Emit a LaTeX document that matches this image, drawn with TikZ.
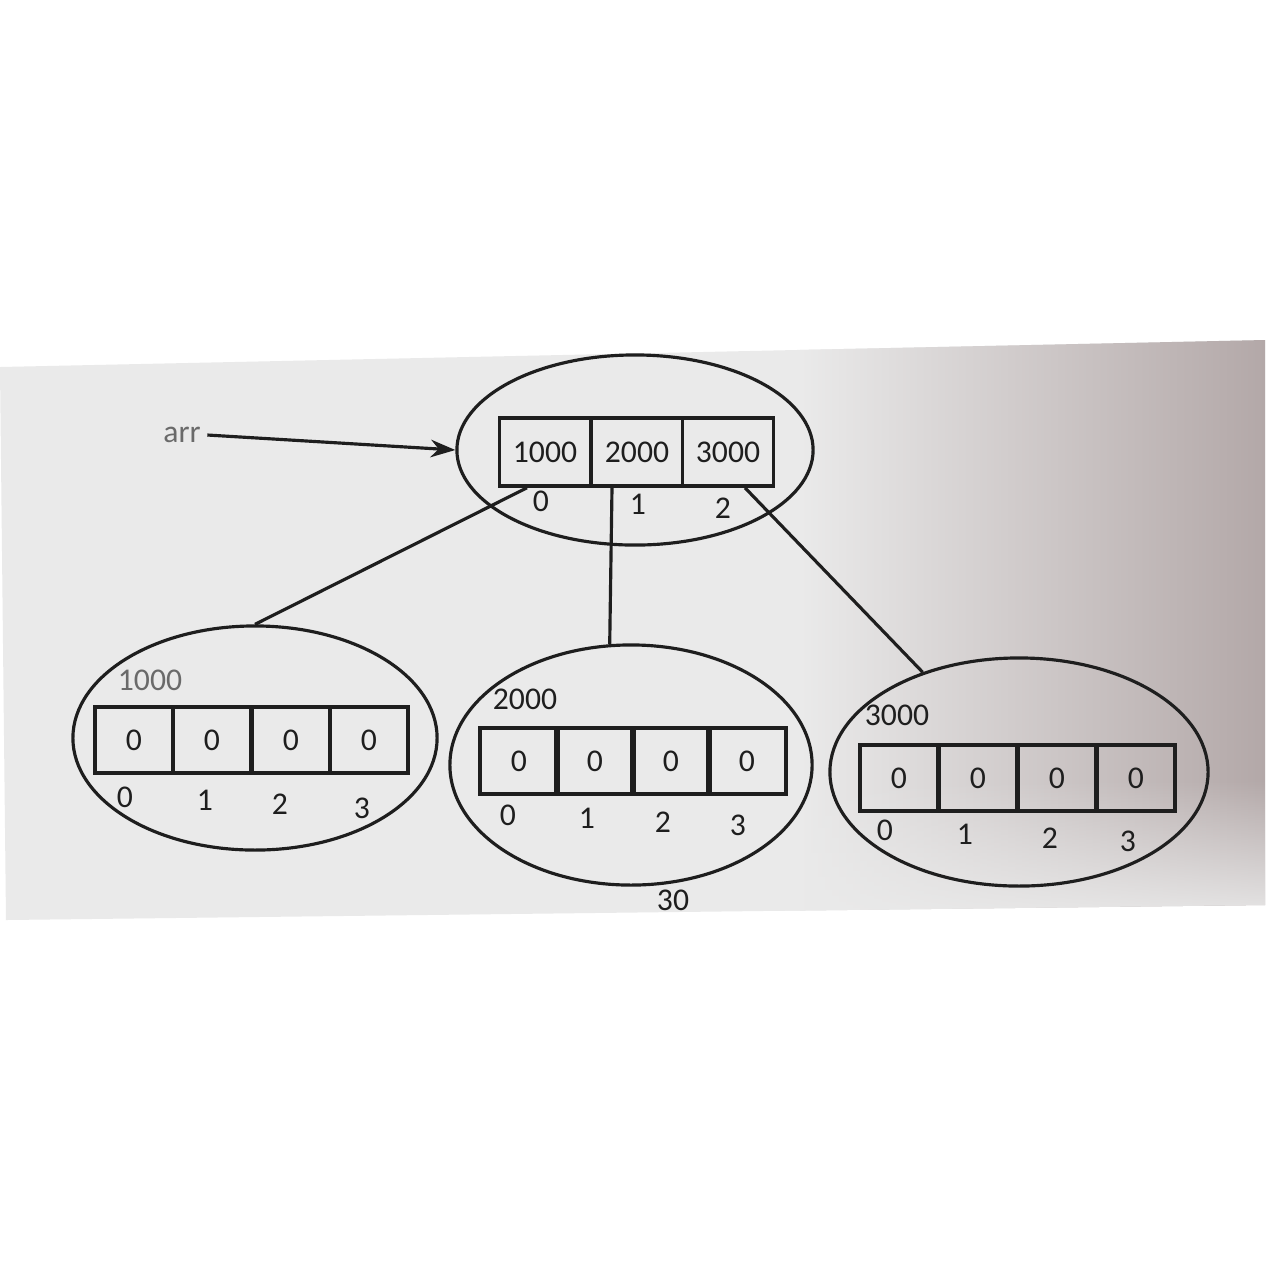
\documentclass[tikz,border=0pt]{standalone}
\usepackage{fontspec}
\setmainfont{Carlito}
\usetikzlibrary{shapes.geometric,arrows.meta,calc,fadings}
\definecolor{pagec}{HTML}{EAEAEA}
\definecolor{shadec}{HTML}{B3A8A8}
\definecolor{inkc}{HTML}{1E1E1E}
\definecolor{lightink}{HTML}{6A6A6A}
\begin{document}
\begin{tikzpicture}[x=0.01cm,y=-0.01cm,
  every node/.style={font=\fontsize{9}{10}\selectfont, text=inkc},
  oval/.style={draw=inkc, ellipse, line width=0.9pt, inner sep=0pt},
  topcell/.style={draw=inkc, line width=1pt, minimum width=0.91cm, minimum height=0.68cm, inner sep=0pt},
  cell/.style={draw=inkc, line width=1pt, minimum width=0.78cm, minimum height=0.66cm, inner sep=0pt},
  idx/.style={inner sep=0pt},
  addr/.style={inner sep=0pt},
  link/.style={draw=inkc, line width=0.9pt}]
% canvas and page
\useasboundingbox (0,0) rectangle (1273,1263);
\fill[white] (0,0) rectangle (1273,1263);
\fill[pagec] (0,367) -- (1265,340) -- (1265,905) -- (6,920) -- cycle;
\begin{scope}
\clip (0,367) -- (1265,340) -- (1265,905) -- (6,920) -- cycle;
\shade[left color=pagec, right color=shadec] (800,330) rectangle (1265,925);
\fill[pagec, path fading=north] (780,780) rectangle (1265,925);
\end{scope}

% top array
\node[oval, minimum width=3.56cm, minimum height=1.90cm] (e0) at (635,450) {};
\node[topcell] (t0) at (545,452) {1000};
\node[topcell] (t1) at (637,452) {2000};
\node[topcell] (t2) at (728,452) {3000};
\node[idx] (ti0) at (541,501) {0};
\node[idx] (ti1) at (638,504) {1};
\node[idx] (ti2) at (723,508) {2};
\node[inner sep=0pt, text=lightink] (arr) at (182,435) {arr};
\draw[link, -{Stealth[length=7pt,width=5pt]}] (arr.east) ++(6,0) -- (e0.west);

% left child
\node[oval, minimum width=3.64cm, minimum height=2.24cm] (e1) at (255,738) {};
\node[addr, text=lightink] (a1) at (150,680) {1000};
\node[cell] (c10) at (134,740) {0};
\node[cell] (c11) at (212,740) {0};
\node[cell] (c12) at (291,740) {0};
\node[cell] (c13) at (369,740) {0};
\node[idx] (i10) at (125,797) {0};
\node[idx] (i11) at (205,800) {1};
\node[idx] (i12) at (280,804) {2};
\node[idx] (i13) at (362,808) {3};

% middle child
\node[oval, minimum width=3.62cm, minimum height=2.40cm] (e2) at (631,765) {};
\node[addr] (a2) at (525,699) {2000};
\node[cell] (c20) at (519,761) {0};
\node[cell] (c21) at (595,761) {0};
\node[cell] (c22) at (671,761) {0};
\node[cell] (c23) at (747,761) {0};
\node[idx] (i20) at (508,815) {0};
\node[idx] (i21) at (587,818) {1};
\node[idx] (i22) at (663,822) {2};
\node[idx] (i23) at (738,825) {3};

% right child
\node[oval, minimum width=3.78cm, minimum height=2.28cm] (e3) at (1019,772) {};
\node[addr] (a3) at (897,715) {3000};
\node[cell] (c30) at (899,778) {0};
\node[cell] (c31) at (978,778) {0};
\node[cell] (c32) at (1057,778) {0};
\node[cell] (c33) at (1136,778) {0};
\node[idx] (i30) at (885,830) {0};
\node[idx] (i31) at (965,834) {1};
\node[idx] (i32) at (1050,838) {2};
\node[idx] (i33) at (1128,841) {3};

% links
\draw[link] ($(t0.south)+(-18,0)$) -- (e1.north);
\draw[link] ($(t1.south)+(-25,0)$) -- (e2.100);
\draw[link] ($(t2.south)+(17,0)$) -- (e3.134);

% page number
\node[inner sep=0pt] (pg) at (673,900) {30};
\end{tikzpicture}
\end{document}
